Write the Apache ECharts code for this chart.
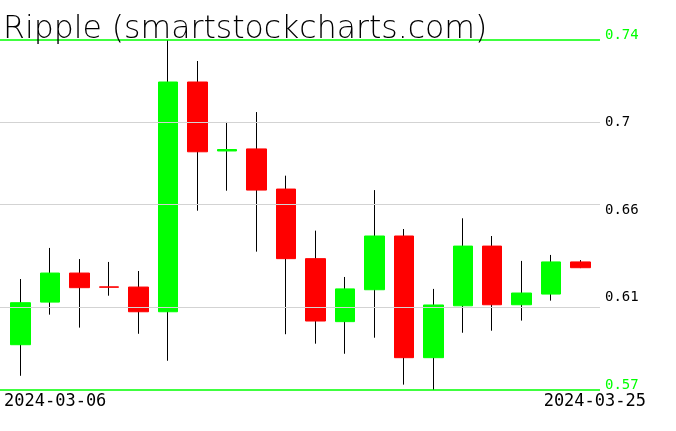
<!DOCTYPE html>
<html>
<head>
<meta charset="utf-8">
<script src="https://cdn.jsdelivr.net/npm/echarts@6/dist/echarts.min.js"></script>
<style>
html,body{margin:0;padding:0;background:#fff;}
#chart{width:676px;height:431px;}
</style>
</head>
<body>
<div id="chart"></div>
<script>
const titleText = 'Ripple (smartstockcharts.com)';
const dates = ['2024-03-06','2024-03-07','2024-03-08','2024-03-09','2024-03-10','2024-03-11','2024-03-12','2024-03-13','2024-03-14','2024-03-15','2024-03-16','2024-03-17','2024-03-18','2024-03-19','2024-03-20','2024-03-21','2024-03-22','2024-03-23','2024-03-24','2024-03-25'];
const openV  = [0.5920,0.6127,0.6268,0.6201,0.6200,0.6080,0.7196,0.6861,0.6871,0.6676,0.6338,0.6032,0.6187,0.6448,0.5857,0.6109,0.6399,0.6114,0.6166,0.6322];
const closeV = [0.6124,0.6268,0.6197,0.6199,0.6080,0.7196,0.6857,0.6868,0.6671,0.6338,0.6035,0.6191,0.6448,0.5857,0.6113,0.6399,0.6114,0.6171,0.6322,0.6294];
const lowV   = [0.5769,0.6066,0.6003,0.6158,0.5973,0.5842,0.6571,0.6668,0.6372,0.5971,0.5925,0.5876,0.5954,0.5726,0.5700,0.5978,0.5988,0.6037,0.6134,0.6292];
const highV  = [0.6239,0.6390,0.6336,0.6322,0.6278,0.7400,0.7298,0.7002,0.7050,0.6741,0.6474,0.6249,0.6671,0.6482,0.6191,0.6534,0.6448,0.6327,0.6356,0.6331];
const yTicks = [0.57, 0.6125, 0.655, 0.6975, 0.74];
const yTickLabels = ['0.57','0.61','0.66','0.7','0.74'];

const GREEN = '#00ff00', RED = '#ff0000';
const wickData = dates.map((d, i) => [i, openV[i], closeV[i], lowV[i], highV[i]]);
const bodyData = dates.map((d, i) => [i, openV[i], closeV[i], Math.min(openV[i], closeV[i]), Math.max(openV[i], closeV[i])]);
const yMin = yTicks[0], yMax = yTicks[yTicks.length - 1];

function tickIndex(v) {
  let best = 0;
  yTicks.forEach((t, k) => { if (Math.abs(t - v) < Math.abs(yTicks[best] - v)) best = k; });
  return best;
}

const chart = echarts.init(document.getElementById('chart'), null, {renderer: 'canvas'});
chart.setOption({
  animation: false,
  backgroundColor: '#ffffff',
  title: [
    {text: titleText, left: 3, top: 14, padding: 0,
     textStyle: {fontFamily: 'DejaVu Sans', fontSize: 31.5, fontWeight: 200, color: '#000'}},
    {text: dates[0], left: 4, top: 393, padding: 0,
     textStyle: {fontFamily: 'DejaVu Sans Mono', fontSize: 17, fontWeight: 'normal', color: '#000'}},
    {text: dates[dates.length - 1], right: 30, top: 393, padding: 0,
     textStyle: {fontFamily: 'DejaVu Sans Mono', fontSize: 17, fontWeight: 'normal', color: '#000'}}
  ],
  grid: {left: 0, right: 76, top: 40, bottom: 41, containLabel: false},
  xAxis: {type: 'value', min: -0.695, max: 19.655, show: false},
  yAxis: {
    type: 'value', position: 'right', min: yMin, max: yMax,
    axisLine: {show: false}, axisTick: {show: false}, splitLine: {show: false},
    axisLabel: {
      customValues: yTicks, margin: 5, verticalAlign: 'bottom', lineHeight: 10,
      fontFamily: 'DejaVu Sans Mono', fontSize: 14,
      color: function (v) { const k = tickIndex(v); return (k === 0 || k === yTicks.length - 1) ? GREEN : '#000'; },
      formatter: function (v) { return yTickLabels[tickIndex(v)]; }
    }
  },
  series: [
    {
      type: 'candlestick', name: 'wick', data: wickData, barWidth: 1, z: 1, silent: true,
      itemStyle: {color: '#000', color0: '#000', borderColor: '#000', borderColor0: '#000', borderColorDoji: '#000', borderWidth: 1}
    },
    {
      type: 'candlestick', name: 'body', data: bodyData, barWidth: 20, z: 2, silent: true,
      itemStyle: {color: GREEN, color0: RED, borderColor: GREEN, borderColor0: RED, borderWidth: 1},
      markLine: {
        silent: true, symbol: 'none', animation: false,
        label: {show: false},
        data: yTicks.map((t, k) => ({
          yAxis: t,
          lineStyle: {type: 'solid', width: (k === 0 || k === yTicks.length - 1) ? 1.5 : 1,
                      color: (k === 0 || k === yTicks.length - 1) ? GREEN : '#d3d3d3'}
        }))
      }
    }
  ]
});
</script>
</body>
</html>
